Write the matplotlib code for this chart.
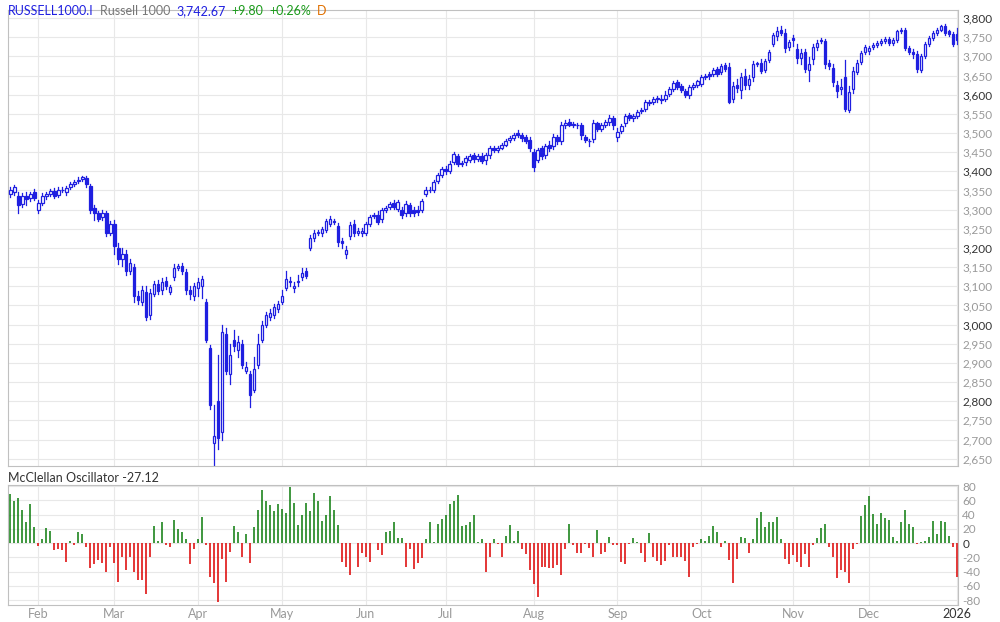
import matplotlib
matplotlib.use("Agg")
import matplotlib.pyplot as plt
from matplotlib.patches import Rectangle
import numpy as np
import pandas as pd

plt.rcParams['font.family'] = ['Lato', 'DejaVu Sans']

holidays = ["2025-02-17", "2025-04-18", "2025-05-26", "2025-06-19", "2025-07-04",
            "2025-09-01", "2025-11-27", "2025-12-25", "2026-01-01"]
dates = [d for d in pd.bdate_range("2025-01-23", "2026-01-02") if d.strftime("%Y-%m-%d") not in holidays]

closes = [3350,3358,3312,3335,3328,3340,3330,
 3318,3335,3342,3348,3336,3352,3350,3356,3368,3372,3378,3384,3368,3300,3292,3276,3290,3240,3262,
 3205,3170,3185,3140,3160,3075,3065,3090,3020,3082,3105,3088,3112,3100,3098,3148,3152,3140,3090,3080,3100,
 3112,3120,2960,2790,2710,2705,2980,2880,2920,2945,2955,2895,2890,2815,2885,2950,3000,3025,3030,3045,3055,
 3075,3120,3110,3100,3115,3135,3128,3225,3240,3242,3250,3270,3275,3268,3215,3212,3195,3260,3238,3245,3245,
 3262,3282,3285,3268,3298,3305,3315,3308,3320,3285,3315,3292,3290,3295,3322,3352,3350,3372,3390,3405,
 3400,3420,3445,3420,3422,3435,3440,3432,3440,3428,3442,3460,3455,3460,3468,3480,3488,3495,3495,3486,3480,3460,
 3410,3455,3440,3465,3460,3490,3478,3520,3525,3522,3520,3520,3495,3482,3478,3525,3510,3520,3528,3540,3520,
 3502,3518,3545,3540,3545,3555,3560,3580,3578,3590,3588,3585,3600,3615,3630,3620,3612,3600,3620,3625,3635,
 3645,3650,3650,3665,3655,3675,3668,3582,3622,3618,3645,3625,3642,3680,3680,3662,3688,3712,3755,3765,3760,3722,3738,
 3742,3695,3710,3668,3680,3725,3735,3740,3680,3675,3632,3610,3620,3562,3608,3662,3682,3708,3725,
 3722,3730,3735,3740,3745,3735,3742,3765,3770,3722,3712,3705,3668,3700,3732,3748,3760,3770,3778,3762,3758,3733,
 3742.67]

opens = [3340,3345,3335,3315,3335,3330,3345,
 3300,3318,3335,3340,3348,3338,3352,3345,3358,3368,3375,3380,3382,3362,3305,3290,3280,3290,3240,
 3262,3200,3172,3185,3140,3150,3075,3060,3085,3025,3080,3105,3090,3115,3085,3125,3148,3152,3138,3090,3075,
 3095,3100,3060,2940,2690,2800,2720,2975,2870,2960,2935,2950,2880,2870,2830,2895,2960,3000,3020,3025,3040,
 3060,3095,3115,3095,3110,3125,3140,3200,3225,3240,3238,3248,3262,3270,3258,3218,3185,3230,3262,3240,3238,
 3240,3262,3284,3286,3275,3300,3306,3318,3302,3300,3290,3312,3298,3298,3300,3340,3352,3352,3375,3390,
 3405,3400,3425,3440,3420,3424,3430,3442,3432,3440,3430,3442,3462,3455,3462,3470,3482,3488,3500,3496,3490,3482,
 3450,3430,3460,3442,3470,3465,3490,3480,3520,3530,3524,3522,3522,3490,3480,3485,3525,3510,3520,3528,3538,
 3490,3505,3525,3548,3538,3545,3558,3562,3582,3580,3592,3590,3590,3602,3615,3632,3622,3610,3600,3620,3625,
 3628,3645,3655,3655,3668,3658,3678,3672,3590,3625,3612,3648,3625,3645,3680,3682,3665,3690,3732,3752,3770,3762,3725,
 3748,3720,3695,3712,3665,3692,3725,3742,3740,3682,3670,3625,3615,3645,3560,3615,3660,3685,3712,
 3715,3725,3730,3735,3740,3745,3735,3742,3765,3770,3722,3712,3705,3665,3700,3732,3748,3760,3770,3778,3765,3758,
 3758]

wick_up = [8,6,10,8,12,6,10,
 6,8,5,6,8,6,6,6,5,6,8,5,6,4,6,6,10,6,8,
 10,12,15,10,12,8,12,10,15,10,8,12,10,8,6,10,6,8,8,10,8,
 10,8,6,8,80,120,20,15,30,25,15,10,12,10,30,25,10,8,10,8,6,
 15,20,8,10,15,12,8,10,6,5,6,5,8,5,8,8,10,8,12,6,6,
 6,5,6,10,6,5,5,8,6,6,8,6,10,12,5,6,6,5,5,6,
 8,6,5,5,5,6,5,6,4,8,5,6,5,5,5,5,5,5,8,5,6,8,
 8,5,6,6,8,8,5,8,10,6,4,5,5,5,4,8,5,6,5,6,6,
 10,6,5,5,5,5,6,5,5,5,5,8,10,5,5,6,5,5,6,5,4,
 6,5,5,5,5,5,5,10,10,15,12,18,10,8,6,10,6,5,6,12,8,10,6,
 8,12,10,8,18,8,8,5,6,8,10,12,20,45,15,10,8,5,5,
 6,5,5,5,5,5,5,5,5,5,6,8,8,6,5,5,5,5,5,6,5,5,
 15]

wick_dn = [6,8,20,8,15,8,6,
 8,6,6,5,6,6,4,6,5,6,5,5,8,8,18,6,8,10,6,
 20,12,20,10,8,15,10,8,8,10,6,8,10,8,6,8,6,8,10,12,10,
 20,30,6,10,60,30,20,10,25,15,20,8,6,30,6,8,6,6,8,8,6,
 6,6,10,10,8,8,6,6,8,6,6,6,5,6,10,12,10,6,8,6,6,
 6,5,6,6,6,5,5,6,6,6,6,8,6,10,5,5,5,5,6,5,
 6,5,6,6,5,8,5,8,6,6,10,6,5,5,5,5,5,5,6,8,6,8,
 10,6,8,8,6,8,6,8,6,5,5,8,10,6,12,8,6,6,5,6,10,
 10,6,6,6,6,6,5,5,6,5,6,6,6,6,5,5,5,6,8,6,6,
 5,5,8,5,5,5,5,5,10,10,20,10,10,8,5,5,6,5,5,10,5,10,8,
 15,12,15,8,30,12,8,5,10,8,10,15,12,5,5,10,6,5,5,
 8,5,5,5,5,6,5,5,5,5,6,8,8,6,5,5,5,5,5,5,5,5,
 10]

osc = [69,59,63,47,29,55,23,-4,5,21,17,-10,-8,-10,-27,3,-3,16,12,-5,-35,-30,-24,-28,-41,-5,-28,-55,-20,-38,
 -20,-40,-52,-52,-72,-20,24,3,30,-3,-6,33,20,16,5,-30,-9,5,37,-3,-47,-56,-83,-23,-55,-13,24,15,-20,12,
 -28,23,47,74,59,53,45,55,48,42,79,56,26,40,56,45,70,59,31,40,66,47,26,-27,-33,-45,0,-33,-14,-20,
 -26,0,-10,-17,16,17,29,7,7,-33,-8,-37,-28,-21,6,30,2,27,34,40,55,59,67,24,26,29,40,2,5,-40,
 -20,6,-2,
 -20,10,26,3,17,-8,-16,-38,-58,-76,-34,-34,-35,-35,-31,-45,-8,27,-3,-14,-14,-2,-7,-20,19,-16,-12,9,-3,-3,
 -27,-30,-2,7,2,-14,-26,14,-19,-25,-31,-25,-3,-20,-20,-20,-25,-47,-6,-2,6,3,10,24,16,-5,3,-24,-56,-23,
 9,7,-14,5,35,44,23,30,30,37,5,-23,-30,-17,-26,-34,-16,-34,-3,7,21,27,-5,-19,-49,-38,-41,-56,-9,-2,
 38,53,66,41,27,42,35,33,9,3,30,47,27,23,-2,1,3,9,31,13,31,29,10,-6,-48,-27.12]

n = min(len(dates), len(closes), len(opens), len(wick_up), len(wick_dn))
closes, opens = np.array(closes[:n]), np.array(opens[:n])
highs = np.maximum(opens, closes) + np.array(wick_up[:n])
lows = np.minimum(opens, closes) - np.array(wick_dn[:n])
dates = dates[:n]

month_idx, month_lbl = [], []
for i, d in enumerate(dates):
    if i == 0:
        continue
    if d.month != dates[i-1].month:
        month_idx.append(i)
        month_lbl.append("2026" if d.year == 2026 else d.strftime("%b"))

BLUE = "#1f1fe0"
GRID = "#e8e8e8"
fig = plt.figure(figsize=(10, 6.22), dpi=100)
W, H = 1000, 622
ax = fig.add_axes([8/W, 1-466/H, 950/W, 456/H])
ax2 = fig.add_axes([8/W, 1-605/H, 950/W, 120/H])

xl = (-0.6, 237.3)
for a in (ax, ax2):
    a.set_xlim(*xl)
    for s in a.spines.values():
        s.set_color("#c0c0c0")
    a.yaxis.tick_right()
    a.tick_params(axis="y", length=0, labelsize=8.5, colors="#999999", pad=3)
    a.tick_params(axis="x", length=0)
    a.set_xticks(month_idx)
    a.grid(True, color=GRID, lw=0.8)
    a.set_axisbelow(True)

ax.set_xticklabels([])
ax.set_ylim(2631, 3821)
yt = np.arange(2650, 3801, 50)
ax.set_yticks(yt)
ax.set_yticklabels([f"{v:,}" for v in yt])
for lab, v in zip(ax.get_yticklabels(), yt):
    if v % 200 == 0:
        lab.set_color("#333333")

bw = 0.65
for i in range(n):
    o, c, h, l = opens[i], closes[i], highs[i], lows[i]
    ax.plot([i, i], [l, min(o, c)], color=BLUE, lw=0.9)
    ax.plot([i, i], [max(o, c), h], color=BLUE, lw=0.9)
    bottom, height = min(o, c), max(abs(c - o), 1.5)
    fc = "white" if c >= o else BLUE
    ax.add_patch(Rectangle((i - bw/2, bottom), bw, height, facecolor=fc, edgecolor=BLUE, lw=0.9, zorder=3))

m = min(len(osc), 238)
oi = np.arange(m)
ov = np.array(osc[:m])
ax2.vlines(oi, 0, ov, colors=np.where(ov >= 0, "#0a7a0a", "#dd0000"), lw=1.1)
ax2.set_ylim(-87, 81.5)
ot = np.arange(-80, 81, 20)
ax2.set_yticks(ot)
ax2.set_yticklabels([str(v) for v in ot])
for lab, v in zip(ax2.get_yticklabels(), ot):
    if v == 0:
        lab.set_color("#333333")
ax2.set_xticklabels(month_lbl)
for lab, t in zip(ax2.get_xticklabels(), month_lbl):
    lab.set_color("#333333" if t == "2026" else "#999999")
    lab.set_fontsize(9)
ax2.tick_params(axis="x", pad=2)

y0 = 1 - 11/H
x = 8/W
parts = [("RUSSELL1000.I", BLUE), ("Russell 1000", "#777777"), ("3,742.67", BLUE),
         ("+9.80", "#1a9a1a"), ("+0.26%", "#1a9a1a"), ("D", "#e07000")]
fig.canvas.draw()
r = fig.canvas.get_renderer()
for t, col in parts:
    txt = fig.text(x, y0, t, color=col, fontsize=9, va="center", ha="left")
    bb = txt.get_window_extent(renderer=r)
    x += (bb.width + 6) / W
fig.text(8/W, 1 - 478/H, "McClellan Oscillator -27.12", color="#333333", fontsize=9, va="center")

fig.savefig("out.png", dpi=100, facecolor="white")
